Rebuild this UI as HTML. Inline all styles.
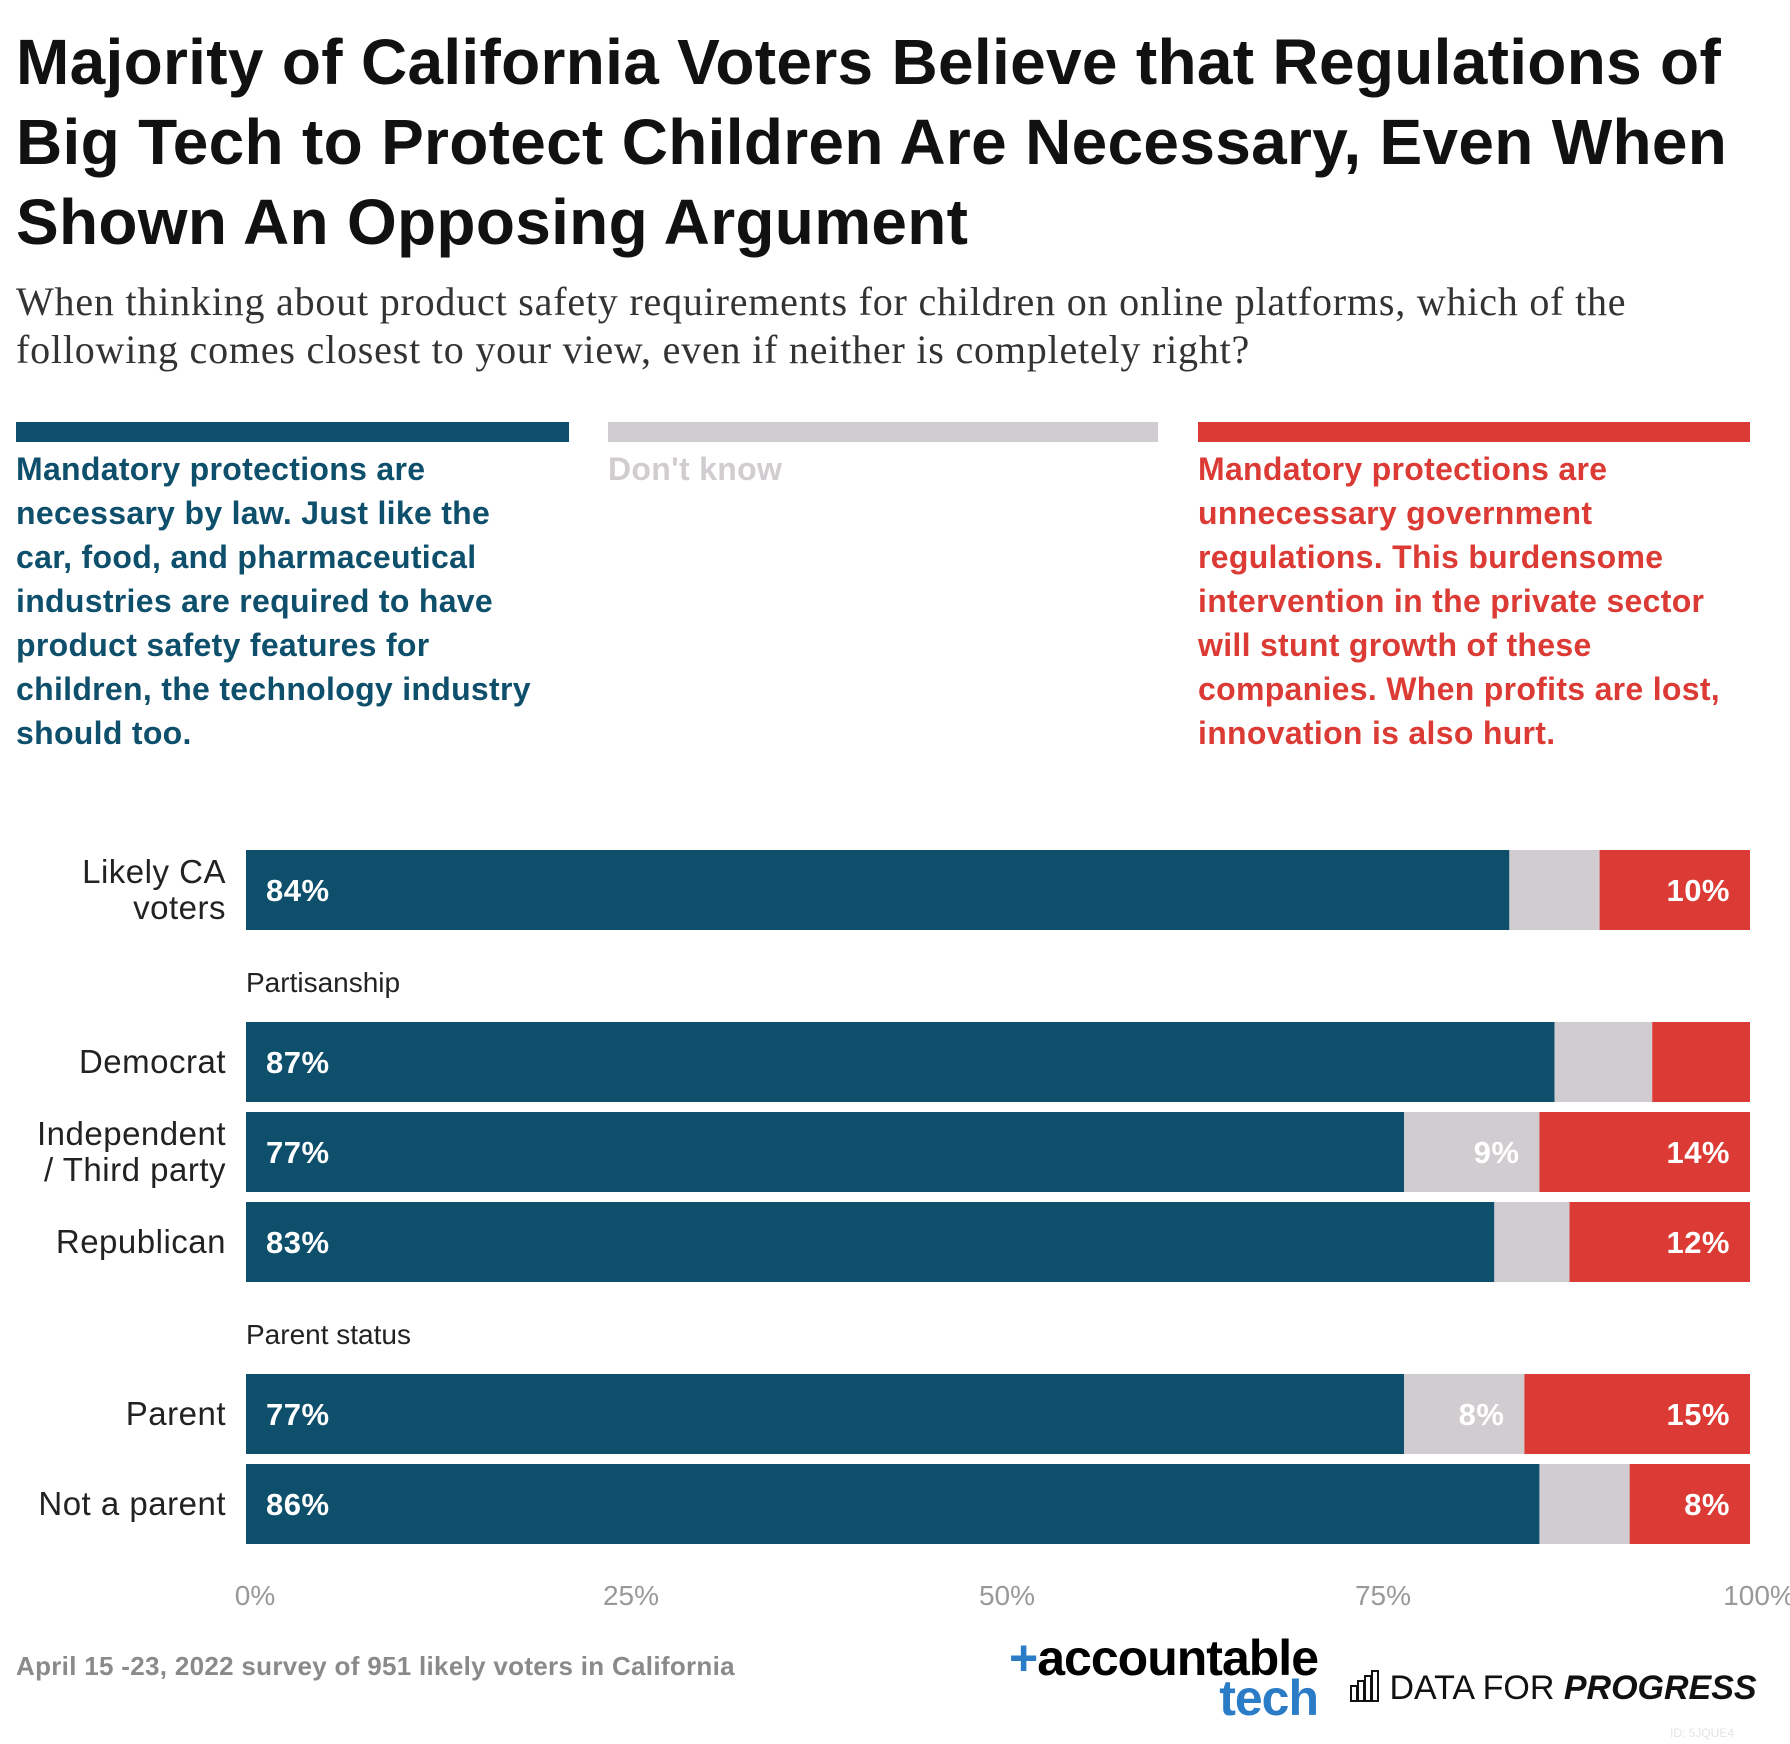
<!DOCTYPE html>
<html><head><meta charset="utf-8">
<style>
body{margin:0;background:#fff;}
#wrap{position:relative;width:1790px;height:1744px;overflow:hidden;font-family:"Liberation Sans",sans-serif;}
.abs{position:absolute;margin:0;}
#title{left:16px;top:22px;font-size:64px;font-weight:bold;line-height:80px;color:#111;letter-spacing:0.3px;white-space:nowrap;}
#sub{left:16px;top:278px;font-family:"Liberation Serif",serif;font-size:40px;line-height:48px;color:#333;letter-spacing:0.8px;white-space:nowrap;}
.lg{font-size:32px;font-weight:bold;line-height:44px;letter-spacing:0.3px;white-space:nowrap;}
.lgbar{height:20px;top:422px;}
</style></head><body>
<div id="wrap">
<h1 class="abs" id="title">Majority of California Voters Believe that Regulations of<br>Big Tech to Protect Children Are Necessary, Even When<br>Shown An Opposing Argument</h1>
<p class="abs" id="sub">When thinking about product safety requirements for children on online platforms, which of the<br>following comes closest to your view, even if neither is completely right?</p>

<div class="abs lgbar" style="left:16px;width:553px;background:#0e4f6c"></div>
<div class="abs lgbar" style="left:608px;width:550px;background:#d0ccd0"></div>
<div class="abs lgbar" style="left:1198px;width:552px;background:#dc3a34"></div>
<div class="abs lg" style="left:16px;top:447px;color:#0e4f6c">Mandatory protections are<br>necessary by law. Just like the<br>car, food, and pharmaceutical<br>industries are required to have<br>product safety features for<br>children, the technology industry<br>should too.</div>
<div class="abs lg" style="left:608px;top:447px;color:#d0ccd0">Don't know</div>
<div class="abs lg" style="left:1198px;top:447px;color:#dc3a34">Mandatory protections are<br>unnecessary government<br>regulations. This burdensome<br>intervention in the private sector<br>will stunt growth of these<br>companies. When profits are lost,<br>innovation is also hurt.</div>

<svg class="abs" style="left:0;top:0" width="1790" height="1744" id="chart"></svg>

<div class="abs" style="left:16px;top:1651px;font-size:26px;font-weight:bold;color:#8a8a8a;letter-spacing:0.3px;white-space:nowrap">April 15 -23, 2022 survey of 951 likely voters in California</div>
<div class="abs" style="left:960px;top:1638px;width:358px;text-align:right;font-weight:bold;font-size:50px;line-height:40px;letter-spacing:-1px"><span style="color:#2a7cc7">+</span>accountable<br><span style="color:#2a7cc7">tech</span></div>
<div class="abs" style="left:1350px;top:1668px;font-size:34px;line-height:40px;color:#111;white-space:nowrap"><svg width="30" height="32" style="vertical-align:-3px"><g fill="none" stroke="#111" stroke-width="2"><rect x="1" y="16" width="6" height="15"/><rect x="8" y="11" width="6" height="20"/><rect x="15" y="6" width="6" height="25"/><rect x="22" y="1" width="6" height="30"/></g></svg> DATA FOR <i style="font-weight:bold">PROGRESS</i></div>
<div class="abs" style="left:1670px;top:1726px;font-size:12px;color:#e4e4e4">ID: 5JQUE4</div>
</div>
<script>
const categories = ["Likely CA voters","Democrat","Independent / Third party","Republican","Parent","Not a parent"];
const necessary = [84,87,77,83,77,86];
const dontKnow = [6,6.5,9,5,8,6];
const unnecessary = [10,6.5,14,12,15,8];
const ticks = [0,25,50,75,100];
const tickLabels = ["0%","25%","50%","75%","100%"];

const svg = document.getElementById('chart');
const NS = 'http://www.w3.org/2000/svg';
const X0 = 246, X1 = 1750;
const rowTops = [850,1022,1112,1202,1374,1464];
const BH = 80;
const labelLines = [["Likely CA","voters"],["Democrat"],["Independent","/ Third party"],["Republican"],["Parent"],["Not a parent"]];
function x(v){return X0 + (X1-X0)*v/100;}
function mk(tag, attrs){const e=document.createElementNS(NS,tag);for(const k in attrs)e.setAttribute(k,attrs[k]);svg.appendChild(e);return e;}

const headers=[["Partisanship",982],["Parent status",1334]];
headers.forEach(h=>{
  const t=mk('text',{x:X0,y:h[1]+10,'font-size':28,fill:'#222','font-family':'Liberation Sans, sans-serif'});
  t.textContent=h[0];
  
  
});

categories.forEach((c,i)=>{
  const y=rowTops[i];
  const total=necessary[i]+dontKnow[i]+unnecessary[i];
  const segs=[[0,necessary[i],'#0e4f6c','necessary'],[necessary[i],necessary[i]+dontKnow[i],'#d0ccd0','dont-know'],[necessary[i]+dontKnow[i],total,'#dc3a34','unnecessary']];
  segs.forEach(s=>{
    const r=mk('rect',{x:x(s[0]*100/total),y:y,width:x(s[1]*100/total)-x(s[0]*100/total),height:BH,fill:s[2]});
    
    
  });
  const lt={'font-size':31,'font-weight':'bold',fill:'#fff','font-family':'Liberation Sans, sans-serif','letter-spacing':'0.5'};
  const t1=mk('text',Object.assign({x:X0+20,y:y+51},lt));t1.textContent=necessary[i]+'%';
  
  
  if(dontKnow[i]>=8){
    const t2=mk('text',Object.assign({x:x((necessary[i]+dontKnow[i])*100/total)-20,y:y+51,'text-anchor':'end'},lt));t2.textContent=dontKnow[i]+'%';
    
    
  }
  if(unnecessary[i]>=8){
    const t3=mk('text',Object.assign({x:X1-20,y:y+51,'text-anchor':'end'},lt));t3.textContent=unnecessary[i]+'%';
    
    
  }
  const lines=labelLines[i];
  const t=mk('text',{x:226,'text-anchor':'end','font-size':33,fill:'#222','font-family':'Liberation Sans, sans-serif','letter-spacing':'0.5'});
  
  
  lines.forEach((l,j)=>{
    const ts=document.createElementNS(NS,'tspan');
    ts.setAttribute('x',226);
    ts.setAttribute('y',y+BH/2+11+(j-(lines.length-1)/2)*36);
    ts.textContent=l;t.appendChild(ts);
  });
});

ticks.forEach((v,i)=>{
  const t=mk('text',{x:x(v)+9,y:1605,'text-anchor':'middle','font-size':28,fill:'#999','font-family':'Liberation Sans, sans-serif'});
  t.textContent=tickLabels[i];
  
  
});
</script>
</body></html>
